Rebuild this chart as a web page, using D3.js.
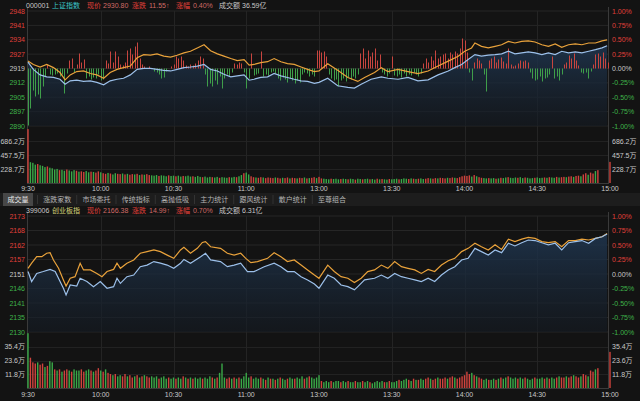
<!DOCTYPE html>
<html>
<head>
<meta charset="utf-8">
<script src="https://cdn.jsdelivr.net/npm/d3@7"></script>
<style>
body { margin: 0; background: #131313; }
svg { display: block; font-family: "Liberation Sans", "Noto Sans CJK SC", sans-serif; }
</style>
</head>
<body>
<svg width="640" height="401"></svg>
<script>
// axis labels
const timeLabels = ["9:30", "10:00", "10:30", "11:00", "13:00", "13:30", "14:00", "14:30", "15:00"];
const pctTicks = [1, 0.75, 0.5, 0.25, 0, -0.25, -0.5, -0.75, -1];
const pctLabels = ["1.00%", "0.75%", "0.50%", "0.25%", "0.00%", "-0.25%", "-0.50%", "-0.75%", "-1.00%"];
const shPriceLabels = ["2948", "2941", "2934", "2927", "2919", "2912", "2905", "2897", "2890"];
const cyPriceLabels = ["2173", "2168", "2162", "2157", "2151", "2146", "2141", "2135", "2130"];
const shVolTicks = [686.2, 457.5, 228.7];
const shVolLabels = ["686.2万", "457.5万", "228.7万"];
const cyVolTicks = [35.4, 23.6, 11.8];
const cyVolLabels = ["35.4万", "23.6万", "11.8万"];
const tabs = ["成交量", "涨跌家数", "市场委托", "传统指标", "高抛低吸", "主力统计", "跟风统计", "散户统计", "至尊组合"];

// header info
const shHeader = { code: "000001", name: "上证指数", price: "2930.80", change: "11.55↑", pct: "0.40%", amount: "36.59亿" };
const cyHeader = { code: "399006", name: "创业板指", price: "2166.38", change: "14.99↑", pct: "0.70%", amount: "6.31亿" };
const shPrev = 2919.25;
const cyPrev = 2151.39;

// [minute after 9:30 in trading time, price]
const shIndex = [[0, 2922.5], [2.2, 2918.8], [5, 2916], [7.7, 2915], [10.5, 2914.7], [13.2, 2913.8], [15.3, 2911.3],
    [17.4, 2913], [20.1, 2913.3], [22.9, 2912.7], [25.7, 2913], [28.4, 2912.2], [31.2, 2911], [33.9, 2913],
    [36.7, 2913.8], [39.4, 2914.3], [42.2, 2916], [45, 2918.8], [47.7, 2919.3], [50.5, 2919.3], [53.2, 2918.8],
    [56, 2918.3], [58.8, 2918], [61.5, 2918.8], [64.3, 2919.7], [67, 2920], [69.8, 2920.5], [72.6, 2921.3],
    [75.3, 2918.8], [78.1, 2918], [80.8, 2916.3], [83.6, 2915], [86.3, 2915.5], [89.1, 2916], [91.2, 2913.3],
    [93.2, 2913.8], [96, 2914.7], [98.8, 2915], [101.5, 2916.7], [104.3, 2915.5], [107, 2914.7], [109.8, 2913.8],
    [112.6, 2913], [115.3, 2912.7], [118.1, 2911.7], [120, 2912.2],
    [123.6, 2914.3], [127.7, 2910.5], [131.9, 2909.7], [134.6, 2909.3], [137.4, 2911.3], [141.5, 2913.8],
    [145.7, 2915], [148.4, 2914.3], [152.6, 2913.8], [156.7, 2914.7], [160.8, 2913], [165, 2913.5], [169.1, 2916],
    [173.3, 2918], [176, 2919.7], [178.8, 2921.3], [181.5, 2923.8], [184.3, 2926.3], [187, 2925.5], [189.8, 2926],
    [192.6, 2926.3], [195.3, 2926.7], [198.1, 2928], [200.8, 2926.7], [203.6, 2927.2], [206.3, 2927.7],
    [209.1, 2927.2], [211.9, 2926.3], [214.6, 2927.2], [217.4, 2926.3], [220.1, 2928], [222.9, 2927.2],
    [225.7, 2927.7], [228.4, 2927.2], [231.2, 2928], [234, 2928.8], [236.7, 2929.7], [238.8, 2930.8]];
const shLead = [[0, 2923], [2.2, 2921.3], [5, 2920], [7.7, 2921.3], [10.5, 2919.7], [13.2, 2917.2], [15.3, 2913.5],
    [17.4, 2916], [20.1, 2917.7], [22.9, 2918], [25.7, 2916.7], [28.4, 2916], [31.2, 2914.3], [33.9, 2917.2],
    [36.7, 2918.8], [39.4, 2919.7], [42.2, 2920.5], [45, 2924.7], [47.7, 2926.3], [50.5, 2926], [53.2, 2926.7],
    [56, 2925.5], [58.8, 2925], [61.5, 2926], [64.3, 2927.2], [67, 2928], [69.8, 2929.7], [72.6, 2931.3],
    [75.3, 2928.3], [78.1, 2926.7], [80.8, 2925.5], [83.6, 2924.3], [86.3, 2923.3], [89.1, 2923.8], [91.2, 2921],
    [93.2, 2921.3], [96, 2922.2], [98.8, 2922.7], [101.5, 2924.3], [104.3, 2922.7], [107, 2921.7], [109.8, 2921.3],
    [112.6, 2920], [115.3, 2918.8], [118.1, 2917.7], [120, 2918],
    [123.6, 2921.7], [127.7, 2918.3], [131.9, 2914.7], [136, 2912.7], [138.8, 2914.7], [142.9, 2917.2],
    [145.7, 2919.7], [148.4, 2917.7], [152.6, 2918.8], [156.7, 2917.7], [160.8, 2916.7], [165, 2918], [169.1, 2920.5],
    [173.3, 2923], [177.4, 2925.5], [180.1, 2928], [182.9, 2929.7], [184.3, 2932.2], [187, 2930.5], [189.8, 2929.7],
    [192.6, 2930.5], [195.3, 2931.3], [198.1, 2933], [200.8, 2932.2], [203.6, 2933], [206.3, 2933.3],
    [209.1, 2932.7], [211.9, 2931.3], [214.6, 2930.5], [217.4, 2931.7], [220.1, 2930], [222.9, 2931.3],
    [225.7, 2931.7], [228.4, 2931.3], [231.2, 2932.2], [234, 2932.2], [236.7, 2933.3], [238.8, 2933.8]];

const cyIndex = [[0, 2152.3], [1.5, 2148.6], [3.6, 2151.6], [6.3, 2152.3], [9.1, 2153.1], [11.2, 2152.3], [14.6, 2146.1],
    [15.7, 2143.6], [17.4, 2147.3], [20.1, 2146.9], [21.5, 2149.8], [24.3, 2148.6], [27, 2146.7], [29.8, 2148.6],
    [32.6, 2146.1], [35.3, 2146.7], [36.7, 2149.8], [38.1, 2147.9], [40.8, 2150.4], [43.6, 2151], [46.3, 2154.1],
    [49.1, 2154.7], [51.9, 2156], [54.6, 2155.4], [57.4, 2154.7], [60.1, 2153.5], [62.9, 2155.4], [64.3, 2156.8],
    [67, 2155.4], [71.2, 2157.8], [73.2, 2159.1], [75.3, 2156.6], [79.4, 2156], [82.2, 2154.1], [85, 2154.7],
    [87.7, 2155.4], [90.5, 2152.3], [93.2, 2152.3], [97.4, 2154.1], [101.5, 2155.4], [104.3, 2154.1], [107, 2152.3],
    [109.8, 2152.3], [112.6, 2150.4], [115.3, 2149.2], [118.1, 2147.7], [120, 2146.1],
    [123.6, 2151], [126.3, 2149.8], [129.1, 2147.3], [131.9, 2146.7], [134.6, 2145.5], [136, 2146.7], [138.8, 2149.2],
    [142.9, 2149.8], [145.7, 2151], [148.4, 2149.8], [151.2, 2151.6], [154, 2150.4], [156.7, 2149.8], [159.5, 2149.2],
    [162.2, 2148.6], [165, 2149.8], [167.7, 2148.6], [170.5, 2151], [173.3, 2152.9], [176, 2154.1], [178.8, 2156.6],
    [181.5, 2157.2], [184.3, 2160.9], [187, 2159.7], [189.8, 2158.4], [192.6, 2160.3], [195.3, 2159.3],
    [198.1, 2162.8], [200.8, 2161.8], [203.6, 2163], [206.3, 2164], [209.1, 2163.8], [211.9, 2163], [214.6, 2162.2],
    [217.4, 2162.8], [220.1, 2160.3], [222.9, 2163], [225.7, 2163.4], [228.4, 2163.8], [231.2, 2162.8],
    [234, 2164.6], [236.7, 2165.2], [238.8, 2166.2]];
const cyLead = [[0, 2153.5], [1.5, 2155.4], [3.6, 2157.8], [5.7, 2157.8], [7.7, 2159.1], [9.1, 2159.3], [10.5, 2156.6],
    [12.6, 2153.5], [14.6, 2149.2], [15.7, 2146.9], [17.4, 2149.8], [19.4, 2150.4], [21.5, 2155.4], [22.9, 2152.9],
    [25.7, 2152.9], [28.4, 2151.6], [30.5, 2150.4], [32.6, 2152.3], [35.3, 2153.1], [36.7, 2155.4], [38.1, 2153.5],
    [40.8, 2155.4], [43.6, 2156.6], [46.3, 2159.1], [49.1, 2159.7], [51.9, 2160.3], [54.6, 2159.7], [57.4, 2158.4],
    [60.1, 2157.2], [62.9, 2160.3], [64.3, 2161.3], [67, 2159.1], [69.8, 2160.9], [71.9, 2163.1], [73.2, 2163.4],
    [75.3, 2161.5], [79.4, 2160.9], [82.2, 2159.1], [85, 2158.4], [87.7, 2159.1], [89.8, 2157.2], [91.9, 2155.6],
    [94.6, 2156], [98.8, 2157.2], [101.5, 2159.3], [104.3, 2157.8], [107, 2156], [109.8, 2156.6], [112.6, 2154.7],
    [115.3, 2152.9], [118.1, 2151], [120, 2149.8],
    [123.6, 2154.7], [126.3, 2152.3], [129.1, 2150.4], [131.9, 2149.8], [134.6, 2148.2], [137.4, 2149.8],
    [140.1, 2152.3], [142.9, 2152.9], [145.7, 2154.7], [148.4, 2153.5], [151.2, 2156], [154, 2154.1], [156.7, 2153.5],
    [159.5, 2152.9], [162.2, 2151.6], [165, 2153.1], [167.7, 2152.3], [170.5, 2154.7], [173.3, 2156.3], [176, 2157.2],
    [178.8, 2159.7], [181.5, 2160.9], [184.3, 2162.8], [187, 2161.5], [189.8, 2160.3], [192.6, 2162.2],
    [195.3, 2160.5], [198.1, 2164.3], [200.8, 2163.4], [203.6, 2164.3], [206.3, 2165], [209.1, 2164.6],
    [211.9, 2163.4], [214.6, 2163], [217.4, 2163.4], [220.1, 2161.5], [222.9, 2163.8], [225.7, 2163.8],
    [228.4, 2164.3], [231.2, 2164], [234, 2164.6], [236.7, 2165.2], [238.8, 2166.4]];

// red / green strength bars of the top panel, one per minute (0..240)
const shBars = [-57, -40, -22, -28, -26, -30, -18, -8, 4, -6,
    -7, -6, -5, -8, -6, -25, -5, 8, 10, -4,
    4, 15, 6, 9, -10, -8, -11, -9, -10, -6,
    -12, -11, 8, 5, 17, 6, 17, 12, 4, 3,
    6, 18, 20, 14, 22, 26, 10, 4, 2, 0,
    2, 0, -3, -4, -6, -10, -9, -3, 0, 2,
    4, 12, 10, 12, 8, 3, 2, 4, 3, 5,
    8, 12, 10, -6, -18, -15, -18, -12, -16, -8,
    -20, -10, -6, -8, -4, 5, 4, 6, 5, -4,
    -20, -10, 15, -7, -6, -5, 17, -8, -6, -7,
    -4, -3, -5, -10, -12, -9, -11, -14, -10, -12,
    -15, -12, -14, -6, -4, -5, -8, -6, -8, 18,
    18, 16, 17, 12, -6, -10, -12, -11, -18, -12,
    -10, -13, -9, -11, -8, -10, -6, 15, 20, 10,
    18, 12, 16, 20, 8, 14, -4, -6, -8, -5,
    12, -7, -8, -6, -9, -5, -8, -6, -7, -4,
    -6, -8, -5, 5, 10, 6, 12, 8, 18, 10,
    12, 14, 15, 10, 16, 14, 17, 15, 20, 30,
    28, 16, -4, -12, 6, 10, 8, 5, -6, -23,
    8, 10, 12, 6, 9, 11, 7, 5, 20, 4,
    2, 3, 5, 8, 7, 8, 6, -4, -10, -12,
    -11, -8, -13, -10, -9, -6, 12, -10, -8, -12,
    -6, 4, 6, 13, 10, 15, 8, 3, -4, -5,
    -4, -10, -3, 4, 14, 15, 12, 16, 10, 6, 0];

// volume per minute (万)
const shVol = [880,
    340, 330, 300, 310, 290, 280, 260, 270, 250, 240,
    220, 230, 210, 215, 200, 220, 205, 190, 210, 200,
    185, 190, 180, 195, 175, 185, 180, 170, 190, 175,
    160, 150, 165, 155, 140, 160, 150, 145, 155, 140,
    150, 135, 145, 140, 150, 130, 140, 135, 145, 130,
    125, 120, 130, 115, 125, 120, 110, 125, 115, 120,
    110, 120, 105, 115, 110, 120, 105, 110, 100, 115,
    100, 95, 105, 90, 100, 95, 90, 100, 85, 95,
    90, 85, 95, 90, 100, 95, 110, 130, 160, 170,
    140, 110, 95, 90, 85, 95, 90, 80, 90, 85,
    80, 90, 85, 75, 85, 80, 90, 75, 85, 80,
    75, 85, 80, 90, 75, 80, 85, 95, 80, 100,
    75, 70, 65, 60, 70, 65, 70, 60, 65, 70,
    65, 60, 70, 65, 55, 70, 65, 60, 65, 70,
    60, 65, 55, 70, 60, 65, 60, 55, 65, 60,
    65, 70, 60, 65, 75, 70, 65, 75, 70, 65,
    70, 75, 65, 70, 80, 75, 70, 80, 75, 85,
    80, 75, 85, 80, 90, 85, 80, 95, 110, 120,
    115, 125, 105, 130, 110, 95, 85, 80, 75, 80,
    75, 80, 70, 75, 85, 80, 90, 95, 85, 80,
    90, 85, 95, 80, 90, 85, 75, 80, 85, 90,
    80, 85, 90, 85, 95, 90, 85, 100, 90, 95,
    100, 95, 105, 110, 100, 115, 120, 110, 140, 160,
    135, 170, 155, 195, 210, 0, 0, 0, 0, 345];
const shVolColor = "r" +
    "gggrgggrgg" + "ggrggrgggr" + "grrggrgrrg" + "rrgrggrrgr" + "grrgrgrgrr" + "gggrgggrgg" +
    "rggrgggrgg" + "grgggrggrg" + "ggrggrggrg" + "grrgrrgrrr" + "rgrrgrrgrr" + "grrgrgrrgr" +
    "rgggrgggrg" + "grggrggrgg" + "rggrgrggrg" + "ggrgggrgrg" + "rggrrgrrgr" + "rrgrrgrrrr" +
    "rrgrgrrggr" + "ggrgrggrgg" + "grggrgggrg" + "ggrgrggrgr" + "rgrrgrrgrr" + "grrgrggggr";

const cyVol = [47,
    26, 22, 21, 22, 20, 21, 18, 19, 23, 22,
    16, 15, 16, 14, 15, 16, 15, 14, 16, 15,
    15, 16, 14, 15, 16, 15, 14, 15, 17, 15,
    14, 16, 13, 12, 11, 12, 10, 11, 10, 12,
    10, 11, 9, 10, 11, 9, 10, 11, 10, 9,
    10, 9, 10, 8, 9, 10, 8, 9, 8, 9,
    8, 9, 8, 10, 9, 8, 9, 8, 9, 8,
    9, 8, 9, 8, 10, 9, 8, 9, 13, 21,
    9, 8, 9, 8, 9, 8, 9, 8, 10, 13,
    9, 10, 8, 9, 8, 9, 8, 7, 9, 8,
    8, 7, 8, 9, 8, 7, 8, 9, 8, 8,
    9, 8, 10, 8, 9, 10, 9, 8, 9, 11,
    6, 5, 6, 5, 6, 5, 6, 6, 5, 6,
    5, 6, 5, 5, 6, 5, 5, 6, 5, 6,
    5, 4, 5, 6, 5, 6, 5, 5, 6, 5,
    5, 6, 7, 6, 7, 8, 7, 6, 8, 7,
    7, 8, 7, 8, 9, 8, 7, 8, 9, 8,
    8, 9, 8, 9, 10, 9, 8, 9, 10, 11,
    14, 12, 13, 11, 10, 9, 8, 7, 8, 7,
    7, 8, 7, 8, 9, 8, 9, 10, 9, 8,
    9, 8, 9, 8, 9, 8, 7, 8, 9, 8,
    8, 9, 8, 9, 8, 9, 8, 9, 10, 9,
    9, 10, 9, 10, 11, 10, 9, 10, 12, 11,
    10, 15, 14, 16, 17, 0, 0, 0, 0, 31];
const cyVolColor = "g" +
    "rrrgrrgrgg" + "rgrgrrgrgg" + "grrggrgrrg" + "rgrrgrggrr" + "grrgrgrgrr" + "gggrgggrgg" +
    "rggrgrgrgg" + "grgggrgrgg" + "grrgrgrggg" + "grgggrgrgr" + "grgrggrggr" + "gggrgrgggg" +
    "rgggrgggrg" + "grggrggrgg" + "rgggggrgrg" + "ggrgggrgrg" + "rggrrgrrgr" + "rrgrrgrrrr" +
    "rrgrgrrggr" + "ggrgrggrgg" + "grggrgggrg" + "ggrgrggrgr" + "rgrrgrrgrr" + "grrgrrggrr";

const RED = "#e0403a";
const GREEN = "#3fb34a";
const svg = d3.select("svg");
const x = d3.scaleLinear().domain([0, 240]).range([28, 610]);
const halfHours = [30, 60, 90, 120, 150, 180, 210];

const defs = svg.append("defs");
const grad = defs.append("linearGradient")
    .attr("id", "areaGrad")
    .attr("x1", 0).attr("y1", 0).attr("x2", 0).attr("y2", 1);
grad.append("stop").attr("offset", "0%").attr("stop-color", "#1f3650").attr("stop-opacity", 0.85);
grad.append("stop").attr("offset", "100%").attr("stop-color", "#141a22").attr("stop-opacity", 0.6);

function drawPanel(p) {
    const g = svg.append("g");
    const yPct = d3.scaleLinear().domain([-1, 1]).range([p.priceBottom, p.priceTop]);
    const yVol = d3.scaleLinear().domain([0, p.volMax]).range([p.volBottom, p.volTop]);
    const toPct = v => (v / p.prev - 1) * 100;

    // gridlines
    g.selectAll(".hgrid")
        .data(pctTicks)
        .enter()
        .append("line")
        .attr("x1", 28).attr("x2", 608)
        .attr("y1", d => yPct(d)).attr("y2", d => yPct(d))
        .attr("stroke", "#262626")
        .attr("stroke-width", 1);

    g.selectAll(".vgrid-v")
        .data(p.volTicks)
        .enter()
        .append("line")
        .attr("x1", 28).attr("x2", 608)
        .attr("y1", d => Math.round(yVol(d)) + 0.5).attr("y2", d => Math.round(yVol(d)) + 0.5)
        .attr("stroke", "#222")
        .attr("stroke-width", 1);

    g.selectAll(".vgrid")
        .data(halfHours)
        .enter()
        .append("line")
        .attr("x1", d => Math.round(x(d)) + 0.5).attr("x2", d => Math.round(x(d)) + 0.5)
        .attr("y1", p.priceTop).attr("y2", p.volBottom)
        .attr("stroke", "#242424")
        .attr("stroke-width", 1);

    // frame
    g.append("line").attr("x1", 27.5).attr("x2", 27.5).attr("y1", p.priceTop - 4).attr("y2", p.volBottom)
        .attr("stroke", "#3a3a3a");
    g.append("line").attr("x1", 608.5).attr("x2", 608.5).attr("y1", p.priceTop - 4).attr("y2", p.volBottom)
        .attr("stroke", "#3a3a3a");
    g.append("line").attr("x1", 27).attr("x2", 609).attr("y1", p.volBottom + 0.5).attr("y2", p.volBottom + 0.5)
        .attr("stroke", "#3a3a3a");

    // area under the index line
    g.append("path")
        .datum(p.index)
        .attr("d", d3.area()
            .x(d => x(d[0]))
            .y0(p.priceBottom)
            .y1(d => yPct(toPct(d[1]))))
        .attr("fill", "url(#areaGrad)");

    // strength bars
    if (p.bars) {
        const yBar = d3.scaleLinear().domain([-57.5, 57.5]).range([p.priceBottom, p.priceTop]);
        g.selectAll(".sbar")
            .data(p.bars)
            .enter()
            .append("line")
            .attr("x1", (d, i) => Math.round(x(i)) + 0.5)
            .attr("x2", (d, i) => Math.round(x(i)) + 0.5)
            .attr("y1", yBar(0))
            .attr("y2", d => yBar(d))
            .attr("stroke", d => d >= 0 ? "#c8453f" : "#3f9e4a")
            .attr("stroke-width", 1);
    }

    // lines
    const line = d3.line().x(d => x(d[0])).y(d => yPct(toPct(d[1])));
    g.append("path")
        .datum(p.lead)
        .attr("d", line)
        .attr("fill", "none")
        .attr("stroke", "#e9a23b")
        .attr("stroke-width", 1.2);

    g.append("path")
        .datum(p.index)
        .attr("d", line)
        .attr("fill", "none")
        .attr("stroke", "#9cc0ea")
        .attr("stroke-width", 1.2);

    // volume bars
    g.selectAll(".vbar")
        .data(p.vol)
        .enter()
        .append("rect")
        .attr("x", (d, i) => x(i) - 0.7)
        .attr("width", 1.4)
        .attr("y", d => yVol(Math.min(d, p.volMax)))
        .attr("height", d => p.volBottom - yVol(Math.min(d, p.volMax)))
        .attr("fill", (d, i) => p.volColor[i] === "r" ? "#d0433d" : "#3aa948");

    // left price labels
    g.selectAll(".plabel")
        .data(p.priceLabels)
        .enter()
        .append("text")
        .attr("x", 25)
        .attr("y", (d, i) => yPct(pctTicks[i]) + 2.5)
        .attr("text-anchor", "end")
        .attr("font-size", "7px")
        .attr("fill", (d, i) => pctTicks[i] > 0 ? RED : (pctTicks[i] < 0 ? GREEN : "#c8c8c8"))
        .text(d => d);

    // right percent labels
    g.selectAll(".rlabel")
        .data(pctLabels)
        .enter()
        .append("text")
        .attr("x", 612)
        .attr("y", (d, i) => yPct(pctTicks[i]) + 2.5)
        .attr("font-size", "7px")
        .attr("fill", (d, i) => pctTicks[i] > 0 ? RED : (pctTicks[i] < 0 ? GREEN : "#c8c8c8"))
        .text(d => d);

    // volume labels both sides
    g.selectAll(".vlabel-l")
        .data(p.volLabels)
        .enter()
        .append("text")
        .attr("x", 25)
        .attr("y", (d, i) => yVol(p.volTicks[i]) + 2.5)
        .attr("text-anchor", "end")
        .attr("font-size", "7px")
        .attr("fill", "#c8c8c8")
        .text(d => d);

    g.selectAll(".vlabel-r")
        .data(p.volLabels)
        .enter()
        .append("text")
        .attr("x", 612)
        .attr("y", (d, i) => yVol(p.volTicks[i]) + 2.5)
        .attr("font-size", "7px")
        .attr("fill", "#c8c8c8")
        .text(d => d);

    // time axis labels
    g.selectAll(".tlabel")
        .data(timeLabels)
        .enter()
        .append("text")
        .attr("x", (d, i) => x(i * 30))
        .attr("y", p.timeY + 2.5)
        .attr("text-anchor", "middle")
        .attr("font-size", "7px")
        .attr("fill", "#c8c8c8")
        .text(d => d);

    // header
    const h = p.header;
    const hy = p.headerY + 2.5;
    const parts = [
        { x: 26, t: h.code, c: "#c8c8c8" },
        { x: 52, t: h.name, c: p.nameColor },
        { x: 87, t: "现价", c: RED },
        { x: 103, t: h.price, c: "#d06a66" },
        { x: 132, t: "涨跌", c: RED },
        { x: 149, t: h.change, c: "#d06a66" },
        { x: 176, t: "涨幅", c: RED },
        { x: 193, t: h.pct, c: "#d06a66" },
        { x: 219, t: "成交额", c: "#c8c8c8" },
        { x: 242, t: h.amount, c: "#c8c8c8" }
    ];
    g.selectAll(".head")
        .data(parts)
        .enter()
        .append("text")
        .attr("x", d => d.x)
        .attr("y", hy)
        .attr("font-size", "7px")
        .attr("fill", d => d.c)
        .text(d => d.t);
}

drawPanel({
    header: shHeader, nameColor: "#3cc6c9", headerY: 5,
    priceTop: 11, priceBottom: 126, volTop: 127, volBottom: 183, timeY: 188,
    prev: shPrev, index: shIndex, lead: shLead, bars: shBars,
    vol: shVol, volColor: shVolColor, volMax: 915, volTicks: shVolTicks, volLabels: shVolLabels,
    priceLabels: shPriceLabels
});

// tab bar between the panels
const tabBar = svg.append("g");
tabBar.append("rect").attr("x", 0).attr("y", 193).attr("width", 640).attr("height", 13).attr("fill", "#1d1d1d");
tabBar.append("rect").attr("x", 3).attr("y", 193).attr("width", 30).attr("height", 13).attr("fill", "#474747");
tabBar.selectAll(".tab")
    .data(tabs)
    .enter()
    .append("text")
    .attr("x", (d, i) => 18 + i * 39.25)
    .attr("y", 202)
    .attr("text-anchor", "middle")
    .attr("font-size", "7px")
    .attr("fill", (d, i) => i === 0 ? "#e8e8e8" : "#b4b4b4")
    .text(d => d);
tabBar.selectAll(".tabsep")
    .data(tabs.slice(1))
    .enter()
    .append("line")
    .attr("x1", (d, i) => 37.5 + i * 39.25).attr("x2", (d, i) => 37.5 + i * 39.25)
    .attr("y1", 195).attr("y2", 204)
    .attr("stroke", "#333");

drawPanel({
    header: cyHeader, nameColor: "#d6d27a", headerY: 210,
    priceTop: 216, priceBottom: 332, volTop: 333, volBottom: 388, timeY: 394,
    prev: cyPrev, index: cyIndex, lead: cyLead, bars: null,
    vol: cyVol, volColor: cyVolColor, volMax: 47.2, volTicks: cyVolTicks, volLabels: cyVolLabels,
    priceLabels: cyPriceLabels
});
</script>
</body>
</html>
